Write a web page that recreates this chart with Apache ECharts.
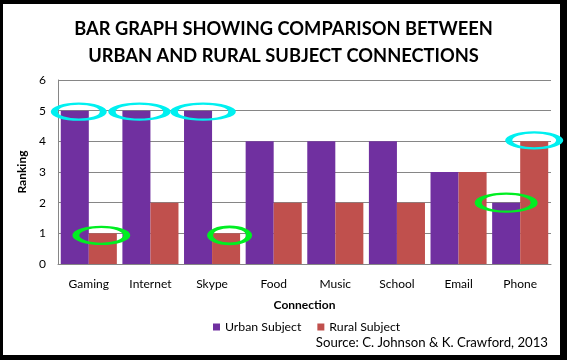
<!DOCTYPE html>
<html><head><meta charset="utf-8">
<script src="https://cdn.jsdelivr.net/npm/echarts@6/dist/echarts.min.js"></script>
<style>html,body{margin:0;padding:0;background:#fff}#c{width:567px;height:360px}</style>
</head><body><div id="c"></div>
<script>
const categories = ['Gaming','Internet','Skype','Food','Music','School','Email','Phone'];
const urban = [5,5,5,4,4,4,3,2];
const rural = [1,2,1,2,2,2,3,4];
const yTicks = [0,1,2,3,4,5,6];
const titleLines = ['BAR GRAPH SHOWING COMPARISON BETWEEN','URBAN AND RURAL SUBJECT CONNECTIONS'];
const source = 'Source: C. Johnson & K. Crawford, 2013';

const FONT = 'Lato';
function ell(cat, val, size, off, color){
  return {coord:[cat,val], symbol:'circle', symbolSize:size, symbolOffset:off,
    itemStyle:{color:'rgba(0,0,0,0)', borderColor:color, borderWidth:4}, label:{show:false}};
}
const CYAN='#00F0F0', GREEN='#00EE22';
const chart = echarts.init(document.getElementById('c'), null, {renderer:'canvas'});
chart.setOption({
  animation:false,
  textStyle:{fontFamily:FONT},
  title:{text:titleLines.join('\n'), left:'center', top:11,
    textStyle:{fontFamily:FONT, fontWeight:'bold', fontSize:18.3, color:'#000', lineHeight:27}},
  grid:{left:58, right:16, top:80, bottom:96},
  legend:{data:['Urban Subject','Rural Subject'], left:208, top:316, itemWidth:7, itemHeight:7, itemGap:16,
    icon:'rect', textStyle:{fontFamily:FONT, fontSize:12.3, color:'#000'}},
  xAxis:{type:'category', data:categories, name:'Connection', nameLocation:'middle', nameGap:35,
    nameTextStyle:{fontFamily:FONT, fontWeight:'bold', fontSize:12, color:'#000'},
    axisLine:{lineStyle:{color:'#868686'}}, axisTick:{show:false},
    axisLabel:{color:'#000', fontSize:12, margin:14, fontFamily:FONT}},
  yAxis:{type:'value', min:yTicks[0], max:yTicks[yTicks.length-1], interval:1, name:'Ranking', nameLocation:'middle', nameGap:23,
    nameTextStyle:{fontFamily:FONT, fontWeight:'bold', fontSize:12, color:'#000'},
    axisLine:{show:true, lineStyle:{color:'#868686'}}, axisTick:{show:false},
    splitLine:{lineStyle:{color:'#868686'}},
    axisLabel:{color:'#000', fontSize:12, margin:12, fontFamily:FONT}},
  series:[
    {name:'Urban Subject', type:'bar', data:urban, barGap:'0%', barCategoryGap:'9%', itemStyle:{color:'#7030A0'},
      markPoint:{silent:true, data:[
        ell('Gaming',5,[49,16],[4,1],CYAN),
        ell('Internet',5,[55,16],[3,1],CYAN),
        ell('Skype',5,[58,16],[5,1],CYAN),
        ell('Phone',2,[56,18],[0,0],GREEN)
      ]}},
    {name:'Rural Subject', type:'bar', data:rural, itemStyle:{color:'#C0504D'},
      markPoint:{silent:true, data:[
        ell('Gaming',1,[51,17],[-1.5,2],GREEN),
        ell('Skype',1,[39,17],[3.5,2],GREEN),
        ell('Phone',4,[51,16],[0,-1],CYAN)
      ]}}
  ],
  graphic:[
    {type:'text', right:19, top:336, style:{text:source, font:'13.2px '+FONT, fill:'#000'}},
    {type:'rect', shape:{x:0,y:0,width:567,height:4}, style:{fill:'#000'}},
    {type:'rect', shape:{x:0,y:355,width:567,height:5}, style:{fill:'#000'}},
    {type:'rect', shape:{x:0,y:0,width:3,height:360}, style:{fill:'#000'}},
    {type:'rect', shape:{x:560,y:0,width:7,height:360}, style:{fill:'#000'}}
  ]
});
</script></body></html>
